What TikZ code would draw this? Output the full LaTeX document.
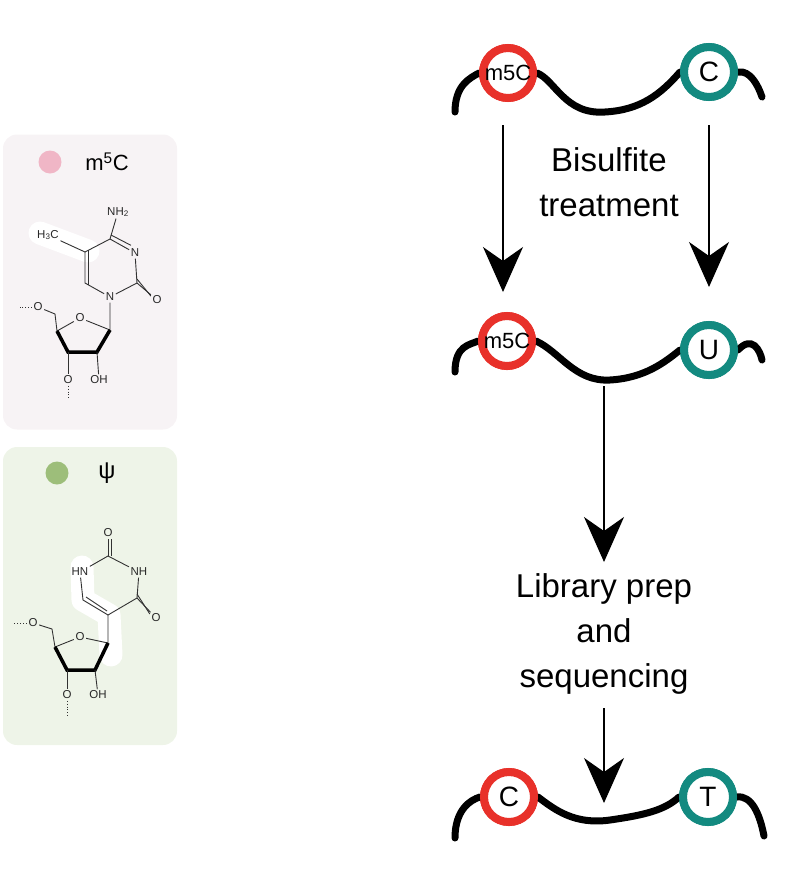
\documentclass[tikz,border=0pt]{standalone}
\usepackage{fontspec}
\setmainfont{Liberation Sans}
\usetikzlibrary{arrows.meta}
\definecolor{redc}{HTML}{E8312A}
\definecolor{tealc}{HTML}{138A80}
\begin{document}
\begin{tikzpicture}[x=1pt,y=-1pt,
  strand/.style={line width=7pt,line cap=round},
  base/.style={circle,draw,line width=8pt,fill=white,minimum size=50pt,inner sep=0pt,font=\fontsize{22}{24}\selectfont},
  mod/.style={base,draw=redc},
  unm/.style={base,draw=tealc,font=\fontsize{28}{30}\selectfont},
  arr/.style={line width=1.3pt,-{Stealth[length=45pt,width=40pt,inset=14pt]}},
  lbl/.style={align=center,font=\fontsize{33}{45}\selectfont},
  bond/.style={line width=0.9pt,draw={rgb,255:red,50;green,50;blue,50}},
  wedge/.style={line width=3.5pt},
  atom/.style={font=\fontsize{11.5}{13}\selectfont,inner sep=1.5pt,fill=none,text={rgb,255:red,40;green,40;blue,40}},
  hl/.style={white,line width=23pt,line cap=round,line join=round}]
\useasboundingbox (0,0) rectangle (797,884);
% ---- left panels
\node[draw=none,fill={rgb,255:red,247;green,243;blue,245},rounded corners=14pt,minimum width=174pt,minimum height=295pt] (p1) at (90,282) {};
\node[draw=none,fill={rgb,255:red,238;green,244;blue,232},rounded corners=14pt,minimum width=174pt,minimum height=298pt] (p2) at (90,596) {};
\node[circle,fill={rgb,255:red,240;green,182;blue,198},minimum size=23pt,inner sep=0] (d1) at (50,162) {};
\node[font=\fontsize{22}{24}\selectfont] (t1) at (107,162) {m\textsuperscript{5}C};
\node[circle,fill={rgb,255:red,157;green,190;blue,122},minimum size=23pt,inner sep=0] (d2) at (57,473) {};
\node[font=\fontsize{24}{26}\selectfont] (t2) at (107,473) {ψ};
% m5C structure
\draw[hl] (40,233) -- (88,251);
\node[atom] (nh2) at (118,212) {NH\textsubscript{2}};
\node[atom] (h3c) at (48,235) {H\textsubscript{3}C};
\node[atom] (n3) at (135,253) {N};
\node[atom] (n1) at (110,297) {N};
\node[atom] (o2) at (157,300) {O};
\coordinate (c4) at (110,239);
\coordinate (c5) at (85,252);
\coordinate (c6) at (85,283);
\coordinate (c2) at (137,283);
\draw[bond] (nh2) -- (c4) -- (n3) -- (c2) -- (n1) -- (c6) -- (c5) -- (c4);
\draw[bond] (c5) -- (h3c);
\draw[bond] ([xshift=3pt,yshift=2pt]c5) -- ([xshift=3pt,yshift=-2pt]c6);
\draw[bond] ([yshift=4pt,xshift=1pt]c4) -- ([yshift=2pt,xshift=-4pt]n3.north);
\draw[bond] (c2) -- (o2);
\draw[bond] ([yshift=4pt]c2) -- ([yshift=4pt]o2.west);
\node[atom] (so1) at (80,318) {O};
\node[atom] (o5a) at (38,307) {O};
\node[atom] (o3a) at (68,380) {O};
\node[atom] (oha) at (99,380) {OH};
\coordinate (c1a) at (110,330); \coordinate (c4a) at (57,331);
\coordinate (c5a) at (55,314);
\coordinate (c3a) at (68,352); \coordinate (c2a) at (97,352);
\draw[bond] (n1) -- (c1a) -- (so1) -- (c4a) -- (c5a) -- (o5a);
\draw[wedge] (c4a) -- (c3a) -- (c2a) -- (c1a);
\draw[bond] (c3a) -- (o3a); \draw[bond] (c2a) -- (oha);
\draw[bond,dotted] (o5a) -- (20,307);
\draw[bond,dotted] (o3a) -- (68,400);
% psi structure
\draw[hl] (82,567) -- (83,600) -- (109,615) -- (111,655);
\node[atom] (o2b) at (108,533) {O};
\node[atom] (hn) at (80,572) {HN};
\node[atom] (nh) at (139,572) {NH};
\node[atom] (o4b) at (156,618) {O};
\coordinate (c2b) at (108,556); \coordinate (c4b) at (137,598);
\coordinate (c5b) at (108,615); \coordinate (c6b) at (83,600);
\draw[bond] (hn) -- (c2b) -- (nh) -- (c4b) -- (c5b) -- (c6b) -- (hn);
\draw[bond] (c2b) -- (o2b); \draw[bond] ([xshift=3pt]c2b) -- ([xshift=3pt]o2b.south);
\draw[bond] (c4b) -- (o4b); \draw[bond] ([yshift=4pt]c4b) -- ([yshift=4pt]o4b.west);
\draw[bond] ([xshift=3pt,yshift=3pt]c6b) -- ([xshift=-1pt,yshift=4pt]c5b);
\node[atom] (so2) at (80,637) {O};
\node[atom] (o5b) at (33,623) {O};
\node[atom] (o3b) at (67,695) {O};
\node[atom] (ohb) at (98,695) {OH};
\coordinate (c1b) at (108,643); \coordinate (c4b2) at (55,647);
\coordinate (c5b2) at (52,629);
\coordinate (c3b) at (67,670); \coordinate (c2b2) at (95,670);
\draw[bond] (c5b) -- (c1b) -- (so2) -- (c4b2) -- (c5b2) -- (o5b);
\draw[wedge] (c4b2) -- (c3b) -- (c2b2) -- (c1b);
\draw[bond] (c3b) -- (o3b); \draw[bond] (c2b2) -- (ohb);
\draw[bond,dotted] (o5b) -- (14,623);
\draw[bond,dotted] (o3b) -- (67,716);
% ---- right: strands
\coordinate (s1a) at (455,112); \coordinate (s1b) at (762,97);
\coordinate (s2a) at (455,372); \coordinate (s2b) at (762,360);
\coordinate (s3a) at (455,838); \coordinate (s3b) at (764,836);
\node[mod] (r1) at (508,73) {};
\node[unm] (g1) at (709,72) {};
\node[mod] (r2) at (507,341) {};
\node[unm] (g2) at (709,350) {};
\node[mod] (r3) at (509,797) {};
\node[unm] (g3) at (708,797) {};
\draw[strand] (s1a) .. controls (455,85) and (470,78) .. (r1.west);
\draw[strand] (r1.east) .. controls (555,80) and (565,115) .. (605,112) .. controls (640,110) and (660,95) .. (g1.west);
\draw[strand] (g1.east) .. controls (750,70) and (758,85) .. (s1b);
\draw[strand] (s2a) .. controls (455,345) and (470,345) .. (r2.west);
\draw[strand] (r2.east) .. controls (560,352) and (575,382) .. (610,380) .. controls (645,378) and (665,362) .. (g2.west);
\draw[strand] (g2.east) .. controls (752,335) and (760,350) .. (s2b);
\draw[strand] (s3a) .. controls (455,810) and (470,800) .. (r3.west);
\draw[strand] (r3.east) .. controls (555,810) and (575,825) .. (610,820) .. controls (645,815) and (665,810) .. (g3.west);
\draw[strand] (g3.east) .. controls (752,795) and (760,815) .. (s3b);
% redraw circles on top
\node[mod] at (r1) {m5C};
\node[unm] at (g1) {C};
\node[mod] at (r2) {m5C};
\node[unm] at (g2) {U};
\node[mod,font=\fontsize{28}{30}\selectfont] at (r3) {C};
\node[unm] at (g3) {T};
% arrows and labels
\coordinate (a1s) at (503,125); \coordinate (a1e) at (503,292);
\coordinate (a2s) at (709,125); \coordinate (a2e) at (709,287);
\coordinate (a3s) at (604,386); \coordinate (a3e) at (604,562);
\coordinate (a4s) at (604,708); \coordinate (a4e) at (604,803);
\draw[arr] (a1s) -- (a1e);
\draw[arr] (a2s) -- (a2e);
\draw[arr] (a3s) -- (a3e);
\draw[arr] (a4s) -- (a4e);
\node[lbl] (bt) at (609,182) {Bisulfite\\treatment};
\node[lbl] (lp) at (604,634) {Library prep\\and\\sequencing};
\end{tikzpicture}
\end{document}
